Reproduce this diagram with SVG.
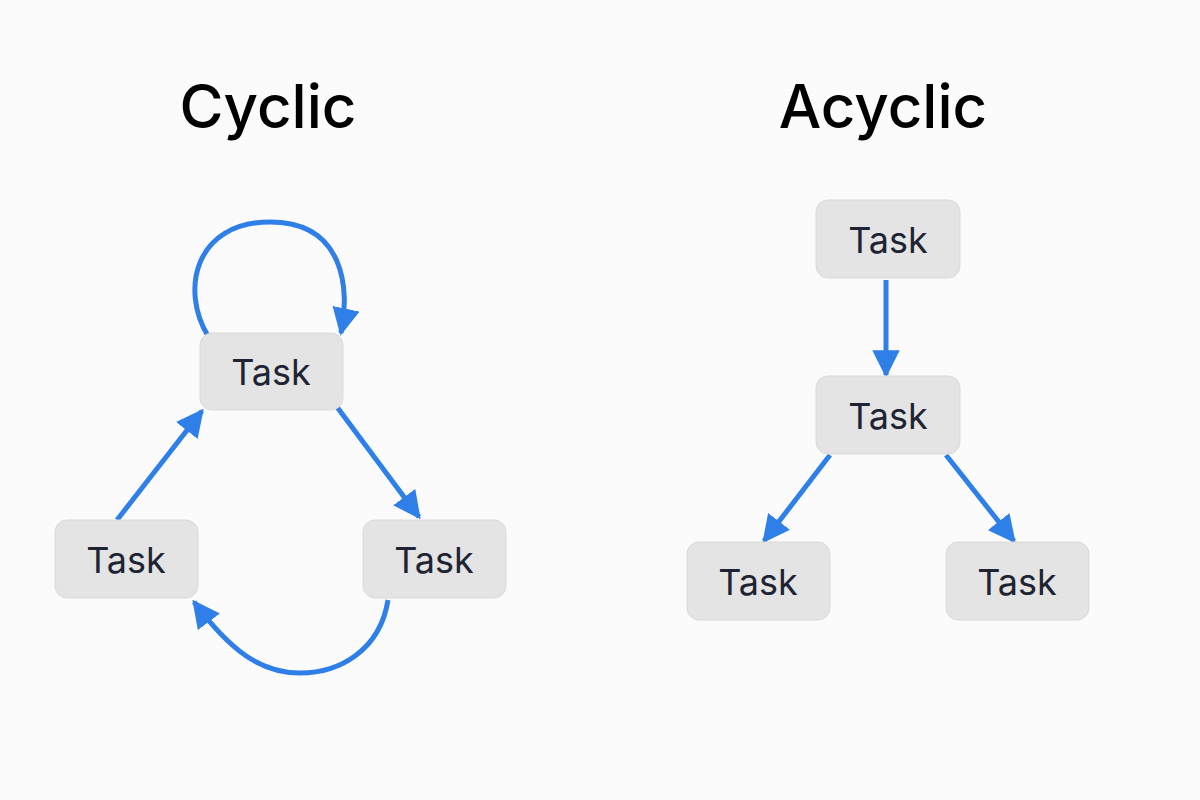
<svg xmlns="http://www.w3.org/2000/svg" width="1200" height="800" viewBox="0 0 1200 800">
<defs>
<style>
.n rect{fill:#e4e4e4;stroke:#dadada;stroke-width:1}
.n text{font-family:Inter,"Open Sans",sans-serif;font-size:36px;fill:#1e2433;text-anchor:middle}
.t{font-family:Inter,"Open Sans",sans-serif;font-size:60px;font-weight:500;fill:#000;text-anchor:middle}
.c path{fill:none;stroke:#2f7fe8;stroke-width:5}
</style>
<marker id="a" viewBox="0 0 10 10" refX="9" refY="5" markerWidth="5.5" markerHeight="5.5" markerUnits="strokeWidth" orient="auto"><path d="M0,0L10,5L0,10z" fill="#2f7fe8"/></marker>
</defs>
<rect width="1200" height="800" fill="#fbfbfb"/>
<text class="t" x="268" y="128">Cyclic</text>
<text class="t" x="883" y="128">Acyclic</text>
<g class="c">
<path d="M208,336 C180,290 195,222 270,222 C345,222 350,290 341,333" marker-end="url(#a)"/>
<path d="M117,520 L202,411" marker-end="url(#a)"/>
<path d="M337,407 L419,517" marker-end="url(#a)"/>
<path d="M388,600 C380,650 340,673 300,673 C260,673 230,650 194,602" marker-end="url(#a)"/>
<path d="M886,280 L886,375" marker-end="url(#a)"/>
<path d="M830,455 L764,541" marker-end="url(#a)"/>
<path d="M946,455 L1014,541" marker-end="url(#a)"/>
</g>
<g id="c-top" class="n"><rect x="200" y="333" width="143" height="77" rx="12"/><text x="271" y="385">Task</text></g>
<g id="c-left" class="n"><rect x="55" y="520" width="143" height="78" rx="12"/><text x="126" y="573">Task</text></g>
<g id="c-right" class="n"><rect x="363" y="520" width="143" height="78" rx="12"/><text x="434" y="573">Task</text></g>
<g id="a-top" class="n"><rect x="816" y="200" width="144" height="78" rx="12"/><text x="888" y="253">Task</text></g>
<g id="a-mid" class="n"><rect x="816" y="376" width="144" height="78" rx="12"/><text x="888" y="429">Task</text></g>
<g id="a-bl" class="n"><rect x="687" y="542" width="143" height="78" rx="12"/><text x="758" y="595">Task</text></g>
<g id="a-br" class="n"><rect x="946" y="542" width="143" height="78" rx="12"/><text x="1017" y="595">Task</text></g>
</svg>
